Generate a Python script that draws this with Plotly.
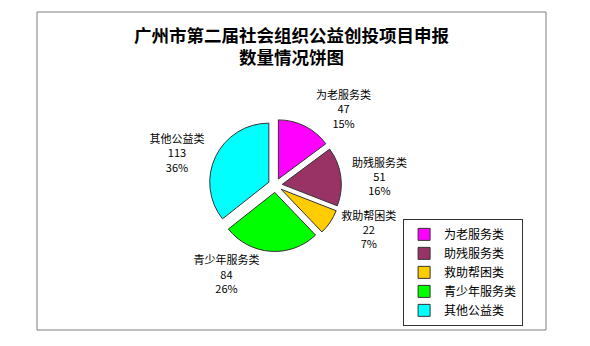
import plotly.graph_objects as go

categories = ["为老服务类", "助残服务类", "救助帮困类", "青少年服务类", "其他公益类"]
values = [47, 51, 22, 84, 113]
colors = ["#FF00FF", "#993366", "#FFCC00", "#00FF00", "#00FFFF"]
title_text = "广州市第二届社会组织公益创投项目申报<br>数量情况饼图"

W, H = 590, 346
ml, mr, mt, mb = 37, 44, 12, 16

fig = go.Figure()
fig.add_trace(go.Pie(
    labels=categories,
    values=values,
    sort=False,
    direction="clockwise",
    rotation=0,
    pull=0.12,
    marker=dict(colors=colors, line=dict(color="#333333", width=1)),
    textposition="outside",
    texttemplate="%{label}<br>%{value}<br>%{percent:.0%}",
    textfont=dict(family="Noto Sans CJK SC", size=11, color="black"),
    domain=dict(x=[0.338, 0.598], y=[0.245, 0.665]),
    hoverinfo="skip",
))

fig.update_layout(
    width=W, height=H,
    margin=dict(l=ml, r=mr, t=mt, b=mb),
    paper_bgcolor="white",
    plot_bgcolor="white",
    title=dict(text=title_text, x=0.494, xanchor="center", y=0.88, yanchor="top",
               font=dict(family="Noto Sans CJK SC", size=17.5, color="black", weight="bold")),
    legend=dict(x=0.955, xanchor="right", y=0.013, yanchor="bottom",
                bordercolor="#333333", borderwidth=1, bgcolor="white",
                font=dict(family="Noto Sans CJK SC", size=12, color="black"),
                itemclick=False, tracegroupgap=0, itemwidth=30),
    shapes=[dict(type="rect", xref="paper", yref="paper", x0=0, y0=0, x1=1, y1=1,
                 line=dict(color="#7f7f7f", width=1))],
)

fig.write_html("out.html")
